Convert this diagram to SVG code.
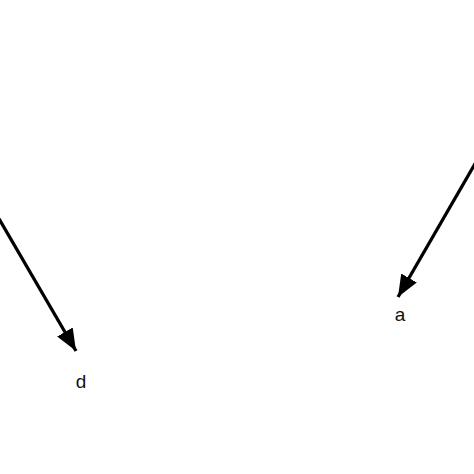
<svg xmlns="http://www.w3.org/2000/svg" width="474" height="474" viewBox="0 0 474 474">
<defs>
<style>
.edge{stroke:#000;stroke-width:3.3;fill:none}
.lbl{font-family:"Liberation Sans",Arial,sans-serif;font-size:19px;fill:#111}
</style>
<marker id="ah" markerUnits="userSpaceOnUse" markerWidth="24" markerHeight="20" viewBox="0 0 24 20" refX="22" refY="10" orient="auto">
<path d="M0,1 L22,10 L0,19 Z" fill="#000"/>
</marker>
</defs>
<rect width="474" height="474" fill="#fff"/>
<g id="connectors">
<path class="edge" d="M-2,217 L76,351" marker-end="url(#ah)"/>
<path class="edge" d="M476,162 L398,297" marker-end="url(#ah)"/>
</g>
<g id="node-d"><text class="lbl" x="81" y="388" text-anchor="middle">d</text></g>
<g id="node-a"><text class="lbl" x="400" y="321" text-anchor="middle">a</text></g>
</svg>
